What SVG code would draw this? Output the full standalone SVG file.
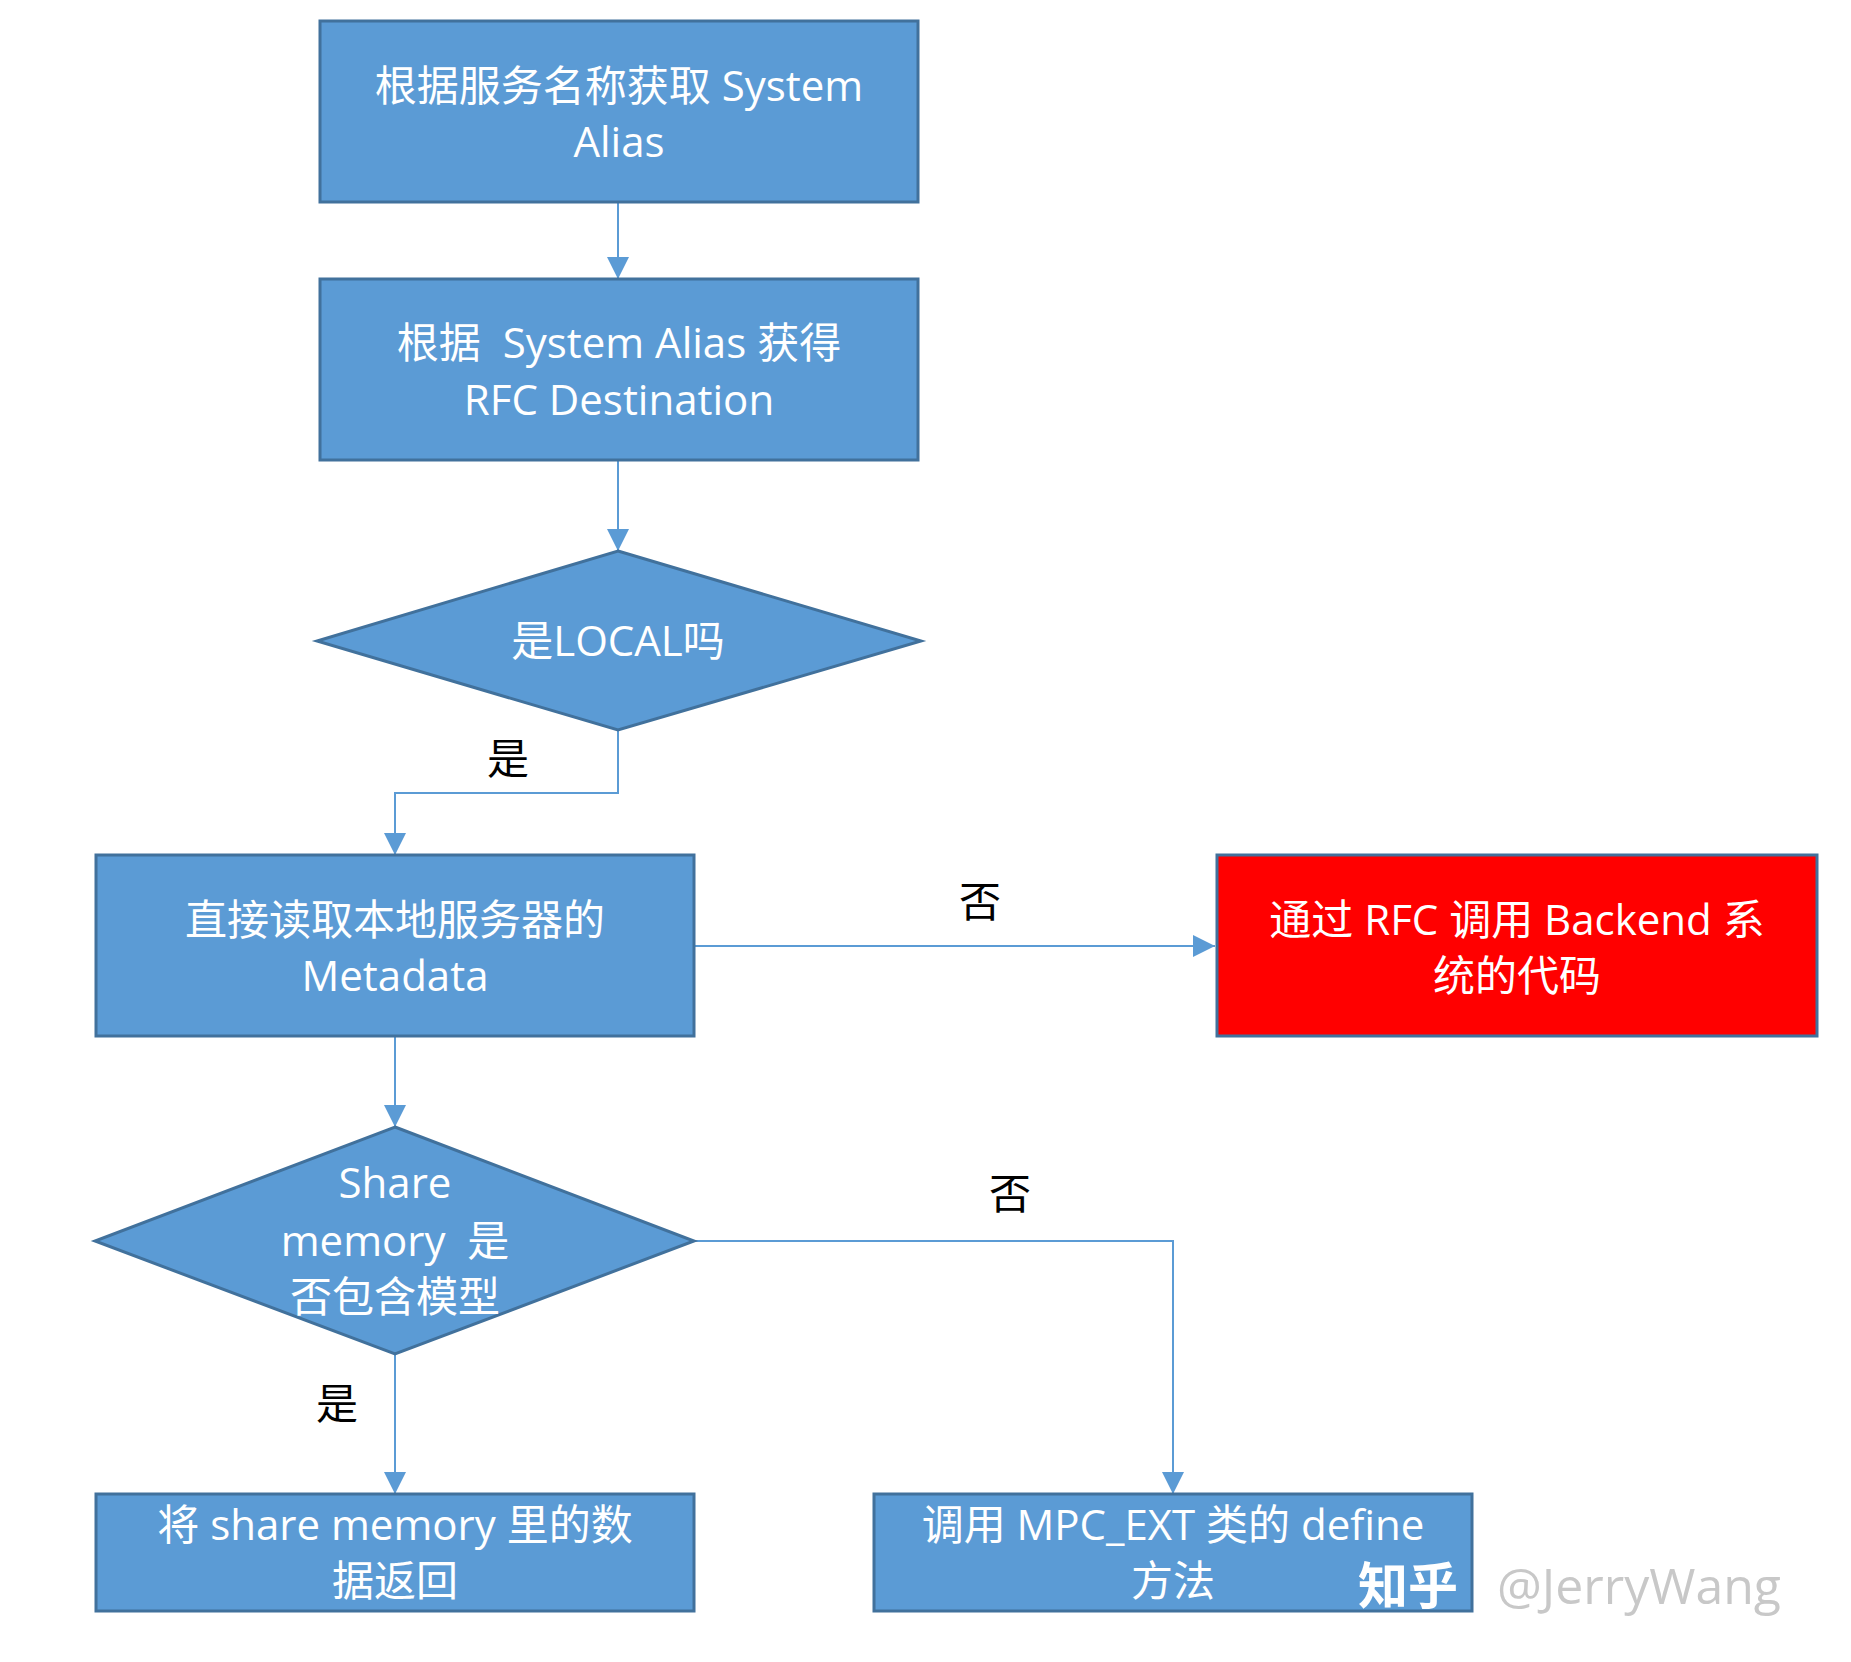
<svg xmlns="http://www.w3.org/2000/svg" width="1851" height="1662" viewBox="0 0 1851 1662">
<style>
.n{fill:#5b9bd5;stroke:#41719c;stroke-width:3}
.r{fill:#ff0000;stroke:#41719c;stroke-width:3}
.t{font-family:"Open Sans","Noto Sans CJK SC",sans-serif;font-size:42px;fill:#fff;text-anchor:middle;white-space:pre}
.l{font-family:"Noto Sans CJK SC",serif;font-size:42px;fill:#000;text-anchor:middle}
.c{fill:none;stroke:#5b9bd5;stroke-width:2}
</style>
<defs>
<marker id="b" viewBox="0 0 10 10" refX="10" refY="5" markerWidth="22" markerHeight="24" orient="auto" markerUnits="userSpaceOnUse"><path d="M0,0 L10,5 L0,10 z" fill="#5b9bd5"/></marker></defs>
<g id="connectors">
<path class="c" d="M618,202 V279" marker-end="url(#b)"/>
<path class="c" d="M618,460 V551" marker-end="url(#b)"/>
<path class="c" d="M618,730 V793 H395 V855" marker-end="url(#b)"/>
<path class="c" d="M694,946 H1215" marker-end="url(#b)"/>
<path class="c" d="M395,1036 V1127" marker-end="url(#b)"/>
<path class="c" d="M694,1241 H1173 V1494" marker-end="url(#b)"/>
<path class="c" d="M395,1354 V1494" marker-end="url(#b)"/>
<text class="l" x="508" y="774">是</text>
<text class="l" x="980" y="917">否</text>
<text class="l" x="1010" y="1209">否</text>
<text class="l" x="337" y="1419">是</text>
</g>
<g id="n1"><rect class="n" x="320" y="21" width="598" height="181"/><text class="t" x="619" y="101">根据服务名称获取 System</text><text class="t" x="619" y="157">Alias</text></g>
<g id="n2"><rect class="n" x="320" y="279" width="598" height="181"/><text class="t" x="619" y="358" xml:space="preserve">根据  System Alias 获得</text><text class="t" x="619" y="415">RFC Destination</text></g>
<g id="n3"><polygon class="n" points="618,551 921,641 618,730 317,641"/><text class="t" x="618" y="656">是LOCAL吗</text></g>
<g id="n4"><rect class="n" x="96" y="855" width="598" height="181"/><text class="t" x="395" y="935">直接读取本地服务器的</text><text class="t" x="395" y="991">Metadata</text></g>
<g id="n5"><rect class="r" x="1217" y="855" width="600" height="181"/><text class="t" x="1517" y="935">通过 RFC 调用 Backend 系</text><text class="t" x="1517" y="991">统的代码</text></g>
<g id="n6"><polygon class="n" points="395,1127 694,1241 395,1354 95,1241"/><text class="t" x="395" y="1198">Share</text><text class="t" x="395" y="1256" xml:space="preserve">memory  是</text><text class="t" x="395" y="1312">否包含模型</text></g>
<g id="n7"><rect class="n" x="96" y="1494" width="598" height="117"/><text class="t" x="395" y="1540">将 share memory 里的数</text><text class="t" x="395" y="1596">据返回</text></g>
<g id="n8"><rect class="n" x="874" y="1494" width="598" height="117"/><text class="t" x="1173" y="1540">调用 MPC_EXT 类的 define</text><text class="t" x="1173" y="1596">方法</text></g>
<g id="watermark"><text x="1358" y="1604" style="font-family:'Noto Sans CJK SC',sans-serif;font-size:50px;font-weight:bold;fill:#fff">知乎</text><text x="1497" y="1604" style="font-family:'Open Sans',sans-serif;font-size:50px;fill:#c8c8c8">@JerryWang</text></g>
</svg>
